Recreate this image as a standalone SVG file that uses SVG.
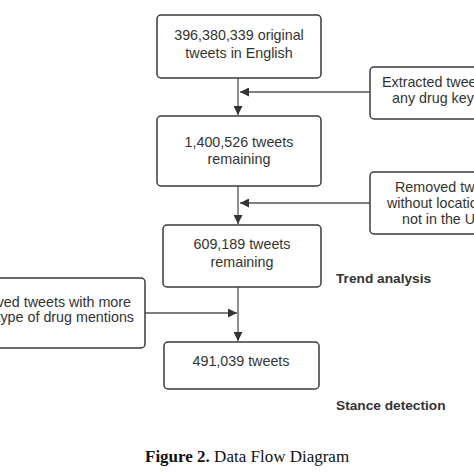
<svg xmlns="http://www.w3.org/2000/svg" width="474" height="474" viewBox="0 0 474 474">
<style>
.box{fill:#fff;stroke:#3a3a3a;stroke-width:1.5}
.t{font-family:"Liberation Sans",Arial,sans-serif;font-size:14.3px;fill:#333}
.c{text-anchor:middle}
.b{font-family:"Liberation Sans",Arial,sans-serif;font-size:13.7px;font-weight:bold;fill:#333}
.conn{stroke:#555;stroke-width:1.3;fill:none}
.cap{font-family:"Liberation Serif","Times New Roman",serif;font-size:17px;fill:#111}
</style>
<defs>
<marker id="ah" viewBox="0 0 10 10" refX="10" refY="5" markerWidth="9" markerHeight="9" markerUnits="userSpaceOnUse" orient="auto">
<path d="M0,0 L10,5 L0,10 z" fill="#333"/>
</marker>
</defs>
<rect width="474" height="474" fill="#fff"/>
<g id="connectors">
<line class="conn" x1="238" y1="78" x2="238" y2="115" marker-end="url(#ah)"/>
<line class="conn" x1="370" y1="92" x2="240" y2="92" marker-end="url(#ah)"/>
<line class="conn" x1="238" y1="186" x2="238" y2="224" marker-end="url(#ah)"/>
<line class="conn" x1="370" y1="203" x2="240" y2="203" marker-end="url(#ah)"/>
<line class="conn" x1="238" y1="287" x2="238" y2="341" marker-end="url(#ah)"/>
<line class="conn" x1="145" y1="313" x2="237" y2="313" marker-end="url(#ah)"/>
</g>
<g id="n1">
<rect class="box" x="157" y="15" width="164" height="63" rx="4"/>
<text class="t c" x="239" y="40">396,380,339 original</text>
<text class="t c" x="239" y="58">tweets in English</text>
</g>
<g id="n2">
<rect class="box" x="157" y="116" width="164" height="70" rx="4"/>
<text class="t c" x="239" y="147">1,400,526 tweets</text>
<text class="t c" x="239" y="164">remaining</text>
</g>
<g id="n3">
<rect class="box" x="163" y="225" width="158" height="62" rx="4"/>
<text class="t c" x="242" y="249">609,189 tweets</text>
<text class="t c" x="242" y="267">remaining</text>
</g>
<g id="n4">
<rect class="box" x="164" y="342" width="155" height="47" rx="4"/>
<text class="t c" x="241" y="366">491,039 tweets</text>
</g>
<g id="r1">
<rect class="box" x="370" y="67" width="120" height="52" rx="4"/>
<text class="t" x="382" y="87">Extracted twee</text>
<text class="t" x="392" y="103">any drug keyw</text>
</g>
<g id="r2">
<rect class="box" x="370" y="172" width="120" height="62" rx="4"/>
<text class="t" x="395" y="192">Removed tw</text>
<text class="t" x="387" y="208">without locatio</text>
<text class="t" x="402" y="224">not in the U</text>
</g>
<g id="l1">
<rect class="box" x="-20" y="278" width="165" height="70" rx="4"/>
<text class="t" x="131" y="307" text-anchor="end">ved tweets with more</text>
<text class="t" x="134" y="322" text-anchor="end">type of drug mentions</text>
</g>
<g id="labels">
<text class="b" x="336" y="283">Trend analysis</text>
<text class="b" x="336" y="410">Stance detection</text>
</g>
<text class="cap" x="145" y="462"><tspan font-weight="bold">Figure 2.</tspan> Data Flow Diagram</text>
</svg>
